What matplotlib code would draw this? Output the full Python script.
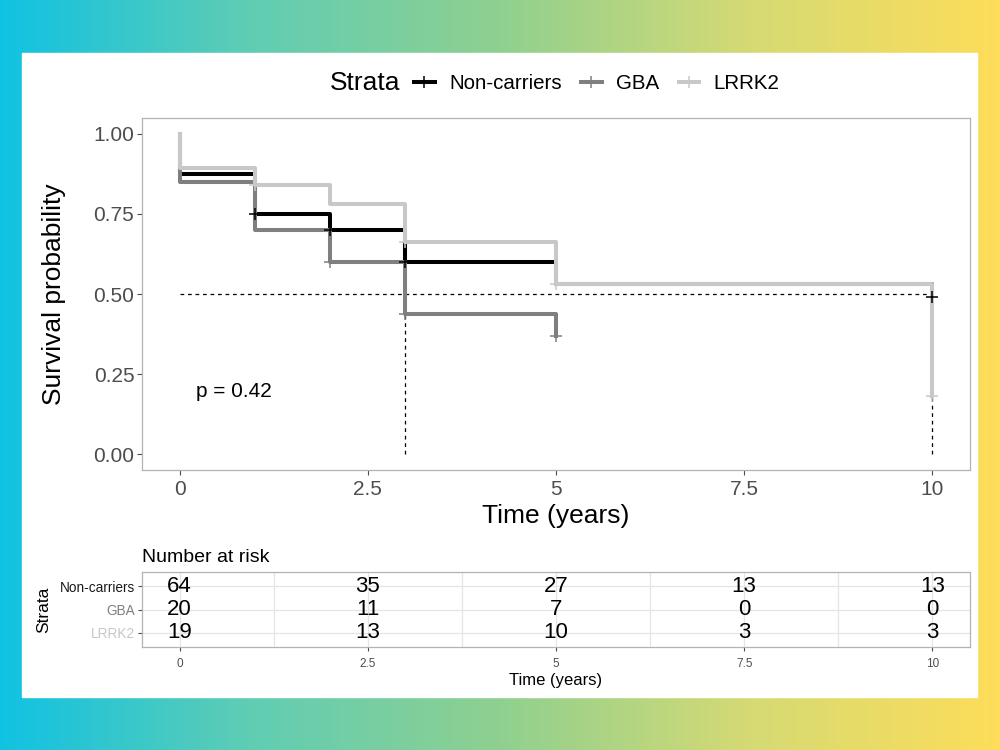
import matplotlib.pyplot as plt
import numpy as np
from matplotlib.lines import Line2D
from matplotlib.colors import LinearSegmentedColormap
from matplotlib.patches import Rectangle

plt.rcParams['font.family'] = ['Liberation Sans', 'DejaVu Sans']

# Kaplan-Meier steps
strata = ['Non-carriers', 'GBA', 'LRRK2']
time_nc = [0, 0, 1, 2, 3, 5, 10]
surv_nc = [1.0, 0.875, 0.75, 0.70, 0.60, 0.53, 0.49]
time_gba = [0, 0, 1, 2, 3, 5]
surv_gba = [1.0, 0.85, 0.70, 0.60, 0.4375, 0.37]
time_lrrk2 = [0, 0, 1, 2, 3, 5, 10]
surv_lrrk2 = [1.0, 0.895, 0.84, 0.78, 0.6625, 0.53, 0.18]

cens_nc = [1, 2, 3, 10]
cens_gba = [2, 3, 5]
cens_lrrk2 = [1, 3, 5, 10]

median_times = [3, 10]
pval = 'p = 0.42'

risk_times = [0, 2.5, 5, 7.5, 10]
risk_nc = [64, 35, 27, 13, 13]
risk_gba = [20, 11, 7, 0, 0]
risk_lrrk2 = [19, 13, 10, 3, 3]

colors = ['#000000', '#7f7f7f', '#c8c8c8']


def surv_at(t, s, c):
    idx = np.searchsorted(t, c, side='right') - 1
    return np.array(s)[idx]


fig = plt.figure(figsize=(10, 7.5), dpi=100)

# gradient background + white card
bg = fig.add_axes([0, 0, 1, 1], zorder=-10)
cmap = LinearSegmentedColormap.from_list('bg', ['#10c2e2', '#60cdb4', '#8fd090', '#d5da74', '#fddd5a'])
bg.imshow(np.linspace(0, 1, 256)[None, :], aspect='auto', cmap=cmap, extent=[0, 1, 0, 1])
bg.add_patch(Rectangle((0.022, 0.0707), 0.955, 0.8586, color='white', zorder=2))
bg.set_xlim(0, 1)
bg.set_ylim(0, 1)
bg.axis('off')

ax = fig.add_axes([0.142, 0.3733, 0.828, 0.4694])
times = [time_nc, time_gba, time_lrrk2]
survs = [surv_nc, surv_gba, surv_lrrk2]
cens = [cens_nc, cens_gba, cens_lrrk2]

# median lines
ax.plot([0, max(median_times)], [0.5, 0.5], ls=(0, (3, 3)), color='black', lw=0.9, zorder=1)
for m in median_times:
    ax.plot([m, m], [0, 0.5], ls=(0, (3, 3)), color='black', lw=0.9, zorder=1)

for t, s, c in zip(times, survs, colors):
    ax.step(t, s, where='post', color=c, lw=2.9, zorder=2)
for t, s, cc, c in zip(times, survs, cens, colors):
    ax.plot(cc, surv_at(t, s, cc), ls='none', marker='+', ms=8, mew=1.1, color=c, zorder=3)

ax.text(0.22, 0.195, pval, fontsize=15, va='center', ha='left')

ax.set_xlim(-0.5, 10.5)
ax.set_ylim(-0.05, 1.05)
ax.set_xticks(risk_times)
ax.set_xticklabels(['0', '2.5', '5', '7.5', '10'])
ax.set_yticks([0, 0.25, 0.5, 0.75, 1.0])
ax.set_yticklabels(['0.00', '0.25', '0.50', '0.75', '1.00'])
ax.tick_params(labelsize=15, colors='#4d4d4d', length=3.5, width=0.8, pad=2)
ax.tick_params(axis='x', pad=4)
for sp in ax.spines.values():
    sp.set_color('#b3b3b3')
    sp.set_linewidth(0.9)
ax.set_xlabel('Time (years)', fontsize=19, labelpad=3)
ax.set_ylabel('Survival probability', fontsize=19, labelpad=20)

# legend
handles = [Line2D([], [], color=c, lw=2.9, marker='+', ms=8, mew=1.1) for c in colors]
fig.text(0.330, 0.889, 'Strata', fontsize=19, va='center', ha='left')
fig.legend(handles, strata, ncol=3, loc='center left', bbox_to_anchor=(0.414, 0.889),
           frameon=False, fontsize=14.8, handlelength=1.0, handletextpad=0.7,
           columnspacing=0.95, borderaxespad=0, borderpad=0)

# risk table
rt = fig.add_axes([0.142, 0.1373, 0.828, 0.1])
rows = [risk_nc, risk_gba, risk_lrrk2]
ypos = [3, 2, 1]
for r, y in zip(rows, ypos):
    for x, v in zip(risk_times, r):
        rt.text(x, y, str(v), ha='center', va='center', fontsize=16)
rt.set_xlim(-0.5, 10.5)
rt.set_ylim(0.4, 3.6)
rt.set_xticks(risk_times)
rt.set_xticklabels(['0', '2.5', '5', '7.5', '10'])
rt.set_xticks([1.25, 3.75, 6.25, 8.75], minor=True)
rt.set_yticks(ypos)
rt.set_yticklabels(strata)
rt.tick_params(labelsize=9.8, colors='#4d4d4d', length=3, width=0.8, pad=2)
rt.tick_params(axis='x', labelsize=8.5, pad=5)
rt.tick_params(which='minor', length=0)
for lab, c in zip(rt.get_yticklabels(), ['#1a1a1a', '#7f7f7f', '#c8c8c8']):
    lab.set_color(c)
rt.grid(True, which='both', color='#e5e5e5', lw=0.9)
rt.set_axisbelow(True)
for sp in rt.spines.values():
    sp.set_color('#b3b3b3')
    sp.set_linewidth(0.9)
rt.set_xlabel('Time (years)', fontsize=12, labelpad=2)
rt.set_ylabel('Strata', fontsize=12.5, labelpad=6)
rt.set_title('Number at risk', fontsize=14, loc='left', x=0.0, pad=7)

fig.savefig('out.png', dpi=100)
